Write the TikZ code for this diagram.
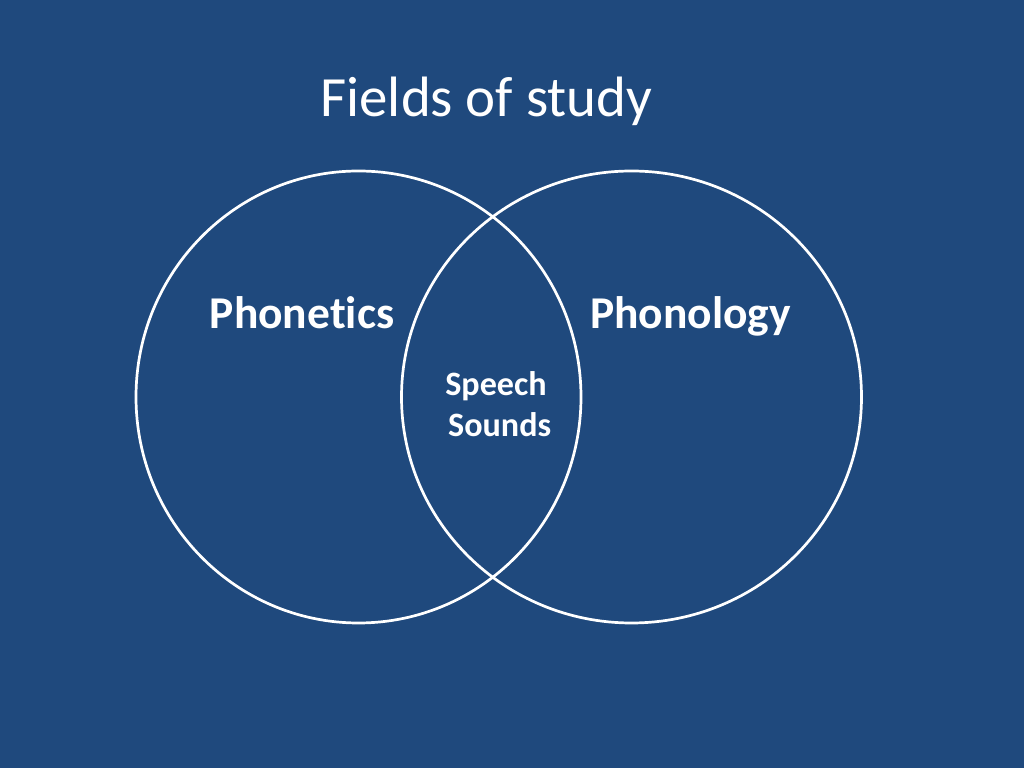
\documentclass[tikz,border=0pt]{standalone}
\usepackage{fontspec}
\setmainfont{Carlito}[Ligatures=NoCommon]
\definecolor{slideblue}{HTML}{1F497D}
\begin{document}
\begin{tikzpicture}[x=0.703125pt,y=0.703125pt,
  ring/.style={draw=white,line width=1.9pt},
  label/.style={text=white,inner sep=0pt,anchor=base}]
  \fill[slideblue] (0,0) rectangle (1024,768);
  \useasboundingbox (0,0) rectangle (1024,768);
  \draw[ring] (358.5,371) ellipse [x radius=222.5, y radius=226];
  \draw[ring] (631.5,371) ellipse [x radius=230, y radius=226];
  \node[label,font=\fontsize{40}{48}\selectfont] (title) at (486.5,651.3) {Fields of study};
  \node[label,font=\fontsize{32}{38}\bfseries] (phonetics) at (302,439) {Phonetics};
  \node[label,font=\fontsize{32}{38}\bfseries] (phonology) at (690.5,439) {Phonology};
  \node[label,font=\fontsize{24}{29.5}\bfseries,align=left,anchor=base west] (speech) at (445,331) {Speech\\\hspace*{2pt}Sounds};
\end{tikzpicture}
\end{document}
